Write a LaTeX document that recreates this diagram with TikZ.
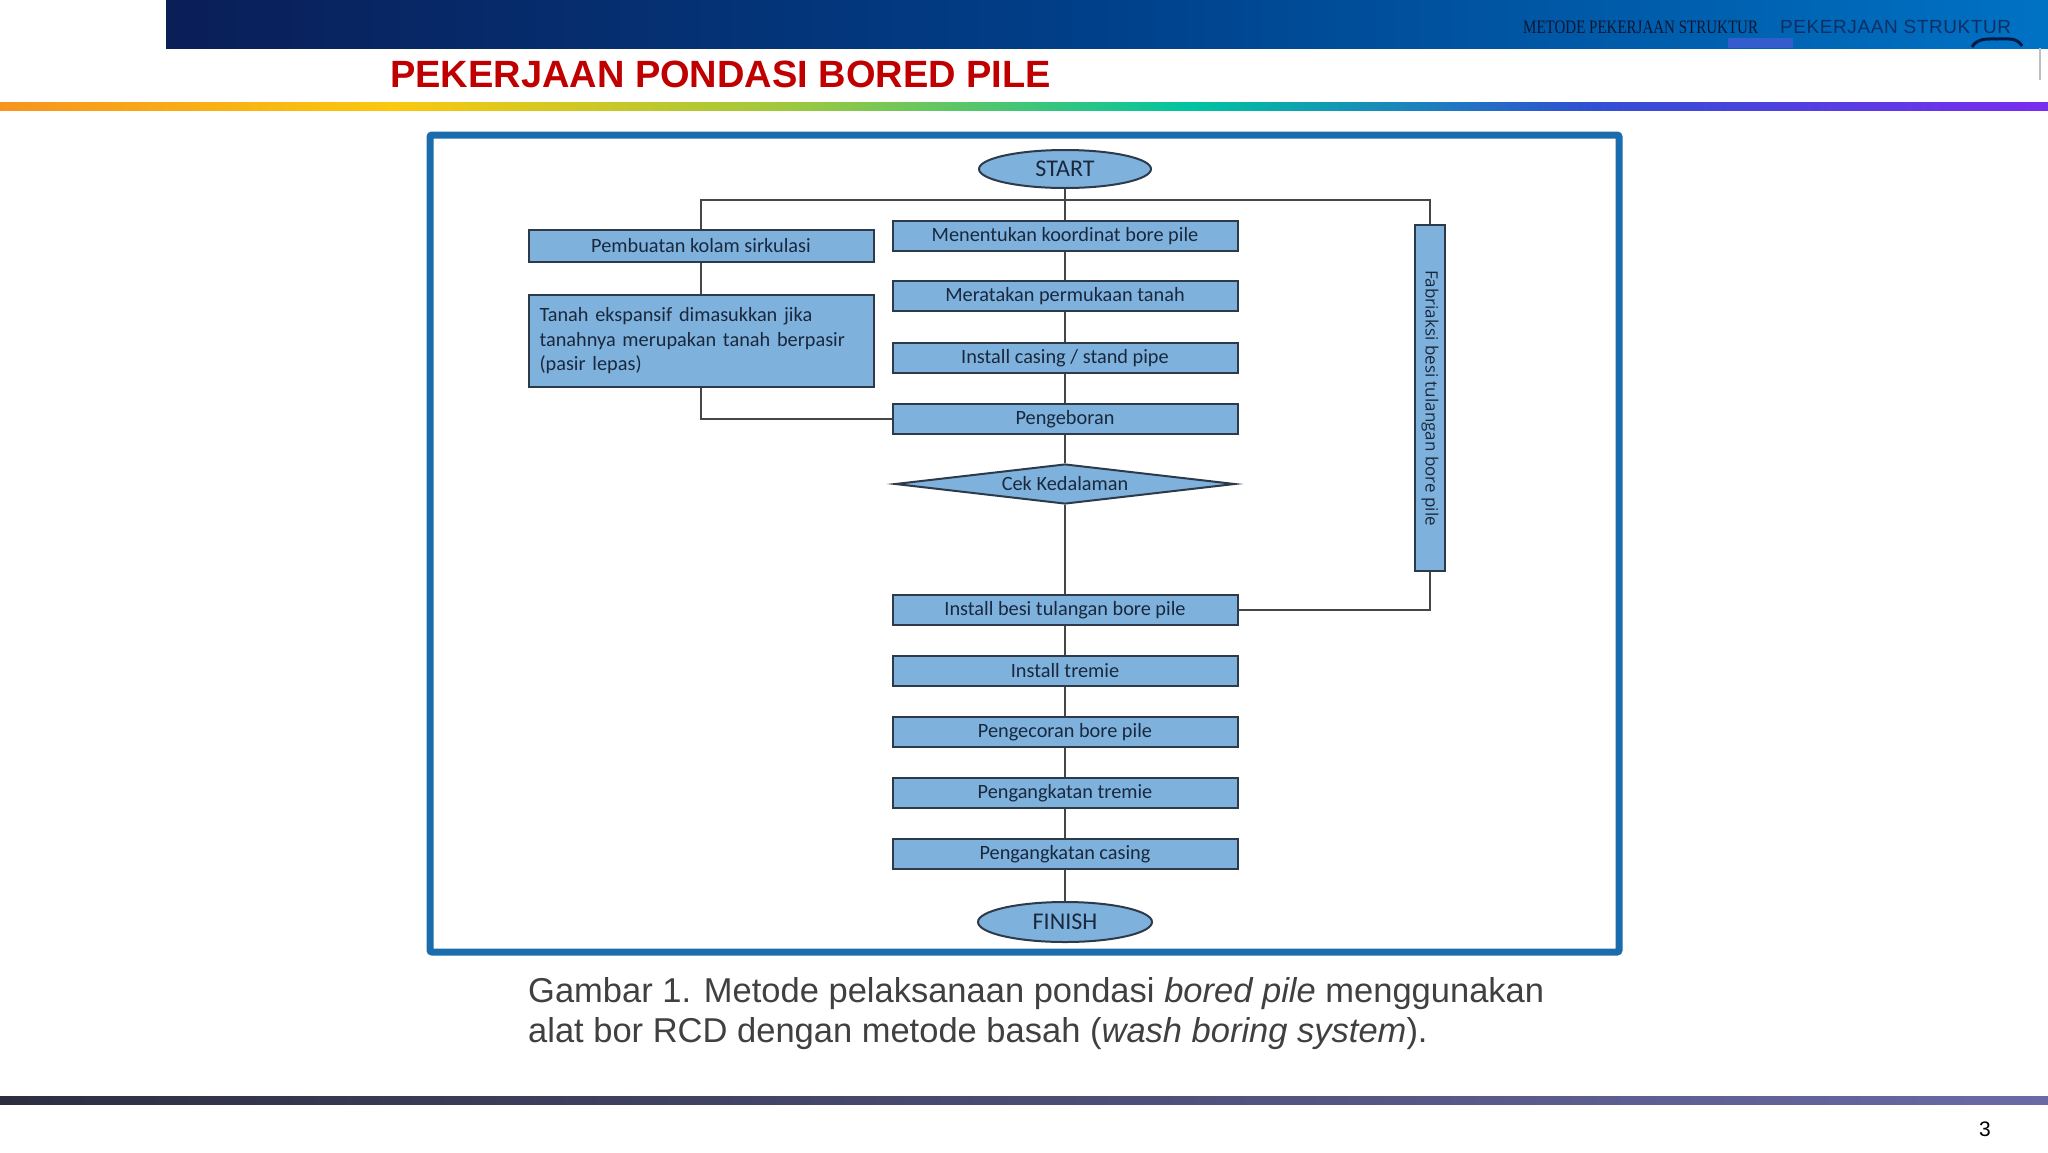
\documentclass[tikz,border=0pt]{standalone}
\usepackage{fontspec}
\setmainfont{Liberation Sans}
\newfontfamily\boxfont{Carlito}
\newfontfamily\sidefont{Open Sans}
\newfontfamily\headfont{Liberation Serif}
\newfontfamily\hdrfont[LetterSpace=3]{Liberation Sans}
\usetikzlibrary{shapes.geometric}
\definecolor{boxblue}{RGB}{126,178,221}
\definecolor{boxline}{RGB}{45,58,74}
\definecolor{boxtext}{RGB}{26,40,62}
\definecolor{linkgray}{RGB}{70,70,70}
\definecolor{framebl}{RGB}{27,108,172}
\definecolor{titlered}{RGB}{192,0,0}
\definecolor{capgray}{RGB}{64,64,64}
\definecolor{bannerL}{RGB}{10,30,88}
\definecolor{bannerM}{RGB}{0,64,138}
\definecolor{bannerR}{RGB}{0,114,196}
\definecolor{hdrdark}{RGB}{14,22,48}
\definecolor{hdrblue}{RGB}{16,46,100}
\definecolor{hdrlilac}{RGB}{74,90,216}
\definecolor{rbA}{RGB}{247,148,30}
\definecolor{rbB}{RGB}{250,200,14}
\definecolor{rbC}{RGB}{160,200,60}
\definecolor{rbD}{RGB}{0,196,160}
\definecolor{rbE}{RGB}{48,80,210}
\definecolor{rbF}{RGB}{122,44,240}
\definecolor{barL}{RGB}{44,46,64}
\definecolor{barR}{RGB}{106,106,166}
\newcommand{\boxsize}{\fontsize{20.3}{24.5}\selectfont}

\begin{document}
\begin{tikzpicture}[x=1pt,y=-1pt,
    stepbox/.style={draw=boxline, line width=2pt, fill=boxblue, minimum width=345pt, minimum height=30pt, inner sep=0pt, text=boxtext, font=\boxfont\boxsize},
    endbox/.style={stepbox, ellipse, minimum width=172pt, minimum height=38pt, font=\boxfont\fontsize{24}{24}\selectfont},
    checkbox/.style={stepbox, diamond, shape aspect=8.6, minimum width=340pt, minimum height=40pt},
    link/.style={draw=linkgray, line width=2pt}]
    \useasboundingbox (0,0) rectangle (2048,1152);
    \fill[white] (0,0) rectangle (2048,1152);
    % header band
    \shade[left color=bannerL, right color=bannerM] (166,0) rectangle (1100,48);
    \shade[left color=bannerM, right color=bannerR] (1100,0) rectangle (2048,48);
    \fill[hdrlilac, opacity=0.7] (1728,38) rectangle (1793,48);
    \draw[bannerL!80!black, line width=3pt] (1972,47) to[out=60,in=180] (1997,39) to[out=0,in=120] (2022,46);
    \draw[gray!50, line width=1.5pt] (2040,48) -- (2040,80);
    \node[anchor=base west, inner sep=0pt, xscale=0.79, text=hdrdark, font=\headfont\fontsize{19}{19}\selectfont] (hdr) at (1523,33) {METODE PEKERJAAN STRUKTUR};
    \node[anchor=base west, inner sep=0pt, text=hdrblue, font=\hdrfont\fontsize{19}{19}\selectfont] (hdrb) at (1780,33) {PEKERJAAN STRUKTUR};
    \node[anchor=base west, inner sep=0pt, text=titlered, font=\bfseries\fontsize{38}{38}\selectfont] (title) at (390,87) {PEKERJAAN PONDASI BORED PILE};
    \foreach \xa/\xb/\ca/\cb in {0/392/rbA/rbB, 392/783/rbB/rbC, 783/1188/rbC/rbD, 1188/1586/rbD/rbE, 1586/2048/rbE/rbF}
        \shade[left color=\ca, right color=\cb] (\xa,102) rectangle (\xb,110);
    \shade[left color=barL, right color=barR] (0,1096) rectangle (2048,1104);
    \node[font=\fontsize{21}{21}\selectfont] (page) at (1985,1129) {3};
    % frame
    \draw[framebl, line width=7pt, rounded corners=2pt] (430,135) rectangle (1619,952);
    % main column
    \node[endbox] (start) at (1065,169) {START};
    \node[stepbox] (koord) at (1065,236) {Menentukan koordinat bore pile};
    \node[stepbox] (rata) at (1065,296) {Meratakan permukaan tanah};
    \node[stepbox] (casing) at (1065,358) {Install casing / stand pipe};
    \node[stepbox] (bor) at (1065,419) {Pengeboran};
    \node[checkbox] (cek) at (1065,484) {Cek Kedalaman};
    \node[stepbox] (besi) at (1065,610) {Install besi tulangan bore pile};
    \node[stepbox] (tremie) at (1065,671) {Install tremie};
    \node[stepbox] (cor) at (1065,732) {Pengecoran bore pile};
    \node[stepbox] (angkattremie) at (1065,793) {Pengangkatan tremie};
    \node[stepbox] (angkatcasing) at (1065,854) {Pengangkatan casing};
    \node[endbox, minimum width=174pt, minimum height=40pt] (finish) at (1065,922) {FINISH};
    % side branches
    \node[stepbox, minimum height=32pt] (kolam) at (701,246) {Pembuatan kolam sirkulasi};
    \node[stepbox, minimum height=92pt, text width=323pt, inner xsep=11pt, align=left] (tanah) at (701,341) {Tanah ekspansif dimasukkan jika\\ tanahnya merupakan tanah berpasir\\ (pasir lepas)};
    \node[stepbox, minimum width=30pt, minimum height=346pt, label={[rotate=-90, text=boxtext, font=\sidefont\fontsize{17}{17}\selectfont]center:Fabriaksi besi tulangan bore pile}] (fab) at (1430,398) {};
    \coordinate (split) at (1065,200);
    \foreach \a/\b in {start/koord, koord/rata, rata/casing, casing/bor, bor/cek, cek/besi, besi/tremie, tremie/cor, cor/angkattremie, angkattremie/angkatcasing, angkatcasing/finish}
        \draw[link] (\a.south) -- (\b.north);
    \draw[link] (kolam.north) |- (split) -| (fab.north);
    \draw[link] (kolam.south) -- (tanah.north);
    \draw[link] (tanah.south) |- (bor.west);
    \draw[link] (besi.east) -| (fab.south);
    % caption
    \node[anchor=base west, inner sep=0pt, text=capgray, font=\fontsize{34.5}{40}\selectfont] (cap1) at (528,1002) {Gambar 1. Metode pelaksanaan pondasi \textit{bored pile} menggunakan};
    \node[anchor=base west, inner sep=0pt, text=capgray, font=\fontsize{34.5}{40}\selectfont] (cap2) at (528,1042) {alat bor RCD dengan metode basah (\textit{wash boring system}).};
\end{tikzpicture}
\end{document}
